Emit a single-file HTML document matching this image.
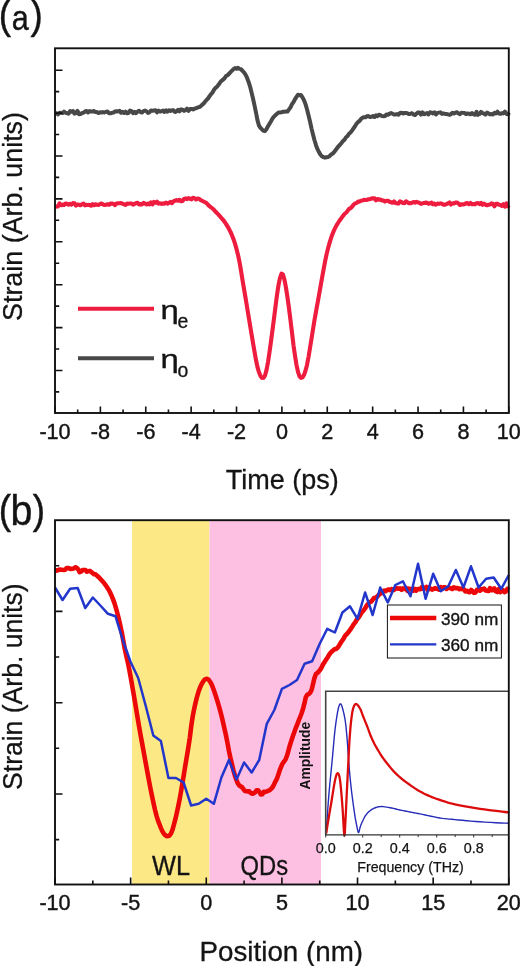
<!DOCTYPE html>
<html lang="en">
<head>
<meta charset="utf-8">
<title>Strain profiles</title>
<style>
html,body{margin:0;padding:0;background:#ffffff;}
body{width:520px;height:966px;overflow:hidden;font-family:"Liberation Sans", "DejaVu Sans", sans-serif;}
svg{display:block;}
</style>
</head>
<body>
<svg width="520" height="966" viewBox="0 0 520 966" font-family='"Liberation Sans", "DejaVu Sans", sans-serif' fill="#141414">
<rect x="0" y="0" width="520" height="966" fill="#ffffff"/>
<g id="panel-a">
<path d="M55.00 112.83 L56.50 113.17 L58.00 114.44 L59.50 112.75 L61.00 112.85 L62.50 113.10 L64.00 111.61 L65.50 112.75 L67.00 113.13 L68.50 113.69 L70.00 111.14 L71.50 111.86 L73.00 111.07 L74.50 113.64 L76.00 113.19 L77.50 110.83 L79.00 114.19 L80.50 114.11 L82.00 112.97 L83.50 112.81 L85.00 111.45 L86.50 111.04 L88.00 112.41 L89.50 111.12 L91.00 111.45 L92.50 111.56 L94.00 110.97 L95.50 112.11 L97.00 112.02 L98.50 113.08 L100.00 112.18 L101.50 112.49 L103.00 112.08 L104.50 112.50 L106.00 111.93 L107.50 111.42 L109.00 113.35 L110.50 113.34 L112.00 112.91 L113.50 112.55 L115.00 111.49 L116.50 111.26 L118.00 111.43 L119.50 110.84 L121.00 112.73 L122.50 111.75 L124.00 112.95 L125.50 111.71 L127.00 113.25 L128.50 112.95 L130.00 110.65 L131.50 111.20 L133.00 113.07 L134.50 111.86 L136.00 113.21 L137.50 111.60 L139.00 110.69 L140.50 112.16 L142.00 112.53 L143.50 111.12 L145.00 110.59 L146.50 111.22 L148.00 112.89 L149.50 112.31 L151.00 110.55 L152.50 110.87 L154.00 110.46 L155.50 110.32 L157.00 112.29 L158.50 110.60 L160.00 111.61 L161.50 111.28 L163.00 110.56 L164.50 111.99 L166.00 110.34 L167.50 111.68 L169.00 110.20 L170.50 110.96 L172.00 110.31 L173.50 110.34 L175.00 112.06 L176.50 111.42 L178.00 109.89 L179.50 111.29 L181.00 109.34 L182.50 109.71 L184.00 110.84 L185.50 110.16 L187.00 108.59 L188.50 110.87 L190.00 109.03 L191.50 108.95 L193.00 109.49 L194.50 108.65 L196.00 108.31 L197.50 107.61 L199.00 107.00 L200.50 106.49 L202.00 104.86 L203.50 103.68 L205.00 101.74 L206.50 99.99 L208.00 98.57 L209.50 96.19 L211.00 94.22 L212.50 92.40 L214.00 89.82 L215.50 87.88 L217.00 86.70 L218.50 84.83 L220.00 82.56 L221.50 80.81 L223.00 79.69 L224.50 78.29 L226.00 76.02 L227.50 75.28 L229.00 73.79 L230.50 72.17 L232.00 70.67 L233.50 69.11 L235.00 68.03 L236.50 68.74 L238.00 67.75 L239.50 68.85 L241.00 69.11 L242.50 70.88 L244.00 72.35 L245.50 74.54 L247.00 77.57 L248.50 81.73 L250.00 86.33 L251.50 92.14 L253.00 98.43 L254.50 105.33 L256.00 112.59 L257.50 120.43 L259.00 125.60 L260.50 127.90 L262.00 129.46 L263.50 130.82 L265.00 131.13 L266.50 129.09 L268.00 126.27 L269.50 123.71 L271.00 121.20 L272.50 118.51 L274.00 116.60 L275.50 115.13 L277.00 113.72 L278.50 112.53 L280.00 112.44 L281.50 112.35 L283.00 111.69 L284.50 111.66 L286.00 111.48 L287.50 111.56 L289.00 109.44 L290.50 107.26 L292.00 104.15 L293.50 102.04 L295.00 99.21 L296.50 96.89 L298.00 94.75 L299.50 95.17 L301.00 95.08 L302.50 97.40 L304.00 100.24 L305.50 104.11 L307.00 109.22 L308.50 115.16 L310.00 121.54 L311.50 128.37 L313.00 134.44 L314.50 140.25 L316.00 145.18 L317.50 149.18 L319.00 152.13 L320.50 154.71 L322.00 156.42 L323.50 157.14 L325.00 157.67 L326.50 157.25 L328.00 157.01 L329.50 156.21 L331.00 154.55 L332.50 153.71 L334.00 152.26 L335.50 150.28 L337.00 148.30 L338.50 146.24 L340.00 144.82 L341.50 142.94 L343.00 141.07 L344.50 139.69 L346.00 137.26 L347.50 136.16 L349.00 133.78 L350.50 132.56 L352.00 130.62 L353.50 128.37 L355.00 126.26 L356.50 123.75 L358.00 122.08 L359.50 120.94 L361.00 118.98 L362.50 117.67 L364.00 117.24 L365.50 117.26 L367.00 116.31 L368.50 116.10 L370.00 117.00 L371.50 116.73 L373.00 115.99 L374.50 117.04 L376.00 115.38 L377.50 116.15 L379.00 114.77 L380.50 115.26 L382.00 116.13 L383.50 116.27 L385.00 116.02 L386.50 114.49 L388.00 114.77 L389.50 113.79 L391.00 113.05 L392.50 113.81 L394.00 114.58 L395.50 114.52 L397.00 114.11 L398.50 114.74 L400.00 112.93 L401.50 112.67 L403.00 113.46 L404.50 113.02 L406.00 112.89 L407.50 113.45 L409.00 114.03 L410.50 113.68 L412.00 113.20 L413.50 114.61 L415.00 114.99 L416.50 113.55 L418.00 112.52 L419.50 112.39 L421.00 114.65 L422.50 112.40 L424.00 114.19 L425.50 113.81 L427.00 113.10 L428.50 114.39 L430.00 112.30 L431.50 112.61 L433.00 113.47 L434.50 112.31 L436.00 114.49 L437.50 112.89 L439.00 112.63 L440.50 112.38 L442.00 113.96 L443.50 113.47 L445.00 113.96 L446.50 114.03 L448.00 114.44 L449.50 114.84 L451.00 114.09 L452.50 112.77 L454.00 113.51 L455.50 112.70 L457.00 112.23 L458.50 113.46 L460.00 114.10 L461.50 112.64 L463.00 112.88 L464.50 113.06 L466.00 113.99 L467.50 113.49 L469.00 113.72 L470.50 114.31 L472.00 112.99 L473.50 114.40 L475.00 114.78 L476.50 111.81 L478.00 114.82 L479.50 114.04 L481.00 111.87 L482.50 113.01 L484.00 113.59 L485.50 114.58 L487.00 112.63 L488.50 113.28 L490.00 114.37 L491.50 114.03 L493.00 114.52 L494.50 112.74 L496.00 113.37 L497.50 111.72 L499.00 113.53 L500.50 113.83 L502.00 113.14 L503.50 113.37 L505.00 111.50 L506.50 113.92 L508.00 114.16 L509.00 112.40" fill="none" stroke="#484848" stroke-width="4.0" stroke-linejoin="round" stroke-linecap="butt"/>
<path d="M55.00 206.53 L56.50 206.59 L58.00 206.37 L59.50 203.44 L61.00 205.25 L62.50 204.62 L64.00 204.98 L65.50 203.52 L67.00 203.73 L68.50 204.62 L70.00 203.80 L71.50 204.62 L73.00 203.06 L74.50 203.26 L76.00 205.49 L77.50 204.44 L79.00 204.75 L80.50 205.28 L82.00 204.33 L83.50 203.56 L85.00 205.36 L86.50 204.86 L88.00 205.01 L89.50 204.91 L91.00 205.77 L92.50 204.23 L94.00 205.21 L95.50 204.22 L97.00 204.72 L98.50 204.93 L100.00 204.05 L101.50 203.46 L103.00 204.42 L104.50 205.01 L106.00 204.68 L107.50 204.30 L109.00 204.77 L110.50 203.60 L112.00 203.57 L113.50 203.91 L115.00 205.11 L116.50 203.54 L118.00 203.31 L119.50 203.24 L121.00 203.07 L122.50 203.63 L124.00 204.34 L125.50 204.92 L127.00 203.66 L128.50 203.72 L130.00 203.47 L131.50 203.46 L133.00 204.60 L134.50 203.97 L136.00 203.19 L137.50 202.76 L139.00 204.39 L140.50 204.13 L142.00 204.37 L143.50 202.83 L145.00 203.54 L146.50 204.40 L148.00 203.52 L149.50 204.34 L151.00 202.33 L152.50 204.28 L154.00 201.92 L155.50 202.76 L157.00 201.72 L158.50 203.62 L160.00 203.26 L161.50 203.91 L163.00 203.41 L164.50 203.70 L166.00 202.59 L167.50 203.61 L169.00 202.90 L170.50 201.76 L172.00 203.15 L173.50 201.44 L175.00 200.70 L176.50 200.07 L178.00 200.69 L179.50 199.74 L181.00 201.30 L182.50 201.07 L184.00 198.99 L185.50 198.44 L187.00 199.22 L188.50 198.10 L190.00 198.81 L191.50 199.31 L193.00 197.81 L194.50 198.23 L196.00 199.51 L197.50 198.59 L199.00 198.72 L200.50 200.12 L202.00 200.66 L203.50 201.51 L205.00 202.23 L206.50 203.09 L208.00 204.69 L209.50 206.19 L211.00 207.36 L212.50 208.35 L214.00 209.85 L215.50 211.51 L217.00 213.14 L218.50 214.66 L220.00 216.31 L221.50 218.12 L223.00 219.73 L224.50 221.79 L226.00 223.86 L227.50 226.31 L229.00 229.06 L230.50 231.94 L232.00 235.40 L233.50 239.12 L235.00 243.68 L236.50 248.91 L238.00 254.93 L239.50 261.98 L241.00 270.72 L242.50 280.00 L244.00 288.84 L245.50 297.69 L247.00 306.72 L248.50 315.91 L250.00 324.98 L251.50 334.02 L253.00 342.85 L254.50 351.56 L256.00 360.03 L257.50 367.10 L259.00 372.31 L260.50 375.98 L262.00 377.92 L263.50 377.77 L265.00 375.53 L266.50 370.10 L268.00 362.07 L269.50 352.10 L271.00 341.36 L272.50 330.05 L274.00 318.42 L275.50 306.50 L277.00 295.02 L278.50 285.14 L280.00 277.94 L281.50 273.63 L283.00 274.52 L284.50 279.98 L286.00 287.90 L287.50 297.49 L289.00 308.38 L290.50 320.14 L292.00 332.63 L293.50 345.23 L295.00 355.75 L296.50 364.85 L298.00 371.89 L299.50 376.31 L301.00 377.97 L302.50 377.35 L304.00 374.93 L305.50 370.82 L307.00 364.98 L308.50 357.05 L310.00 348.02 L311.50 338.77 L313.00 329.20 L314.50 319.97 L316.00 311.52 L317.50 303.31 L319.00 295.13 L320.50 286.60 L322.00 278.07 L323.50 269.84 L325.00 261.88 L326.50 254.64 L328.00 248.47 L329.50 243.03 L331.00 238.11 L332.50 233.95 L334.00 230.35 L335.50 227.41 L337.00 224.56 L338.50 222.24 L340.00 219.92 L341.50 217.91 L343.00 215.88 L344.50 214.00 L346.00 212.78 L347.50 210.92 L349.00 208.90 L350.50 208.25 L352.00 206.83 L353.50 204.79 L355.00 203.45 L356.50 203.12 L358.00 201.67 L359.50 201.64 L361.00 200.65 L362.50 200.41 L364.00 199.78 L365.50 200.00 L367.00 199.87 L368.50 199.18 L370.00 199.12 L371.50 198.52 L373.00 198.18 L374.50 198.26 L376.00 200.36 L377.50 198.96 L379.00 199.70 L380.50 199.61 L382.00 200.54 L383.50 200.53 L385.00 201.56 L386.50 200.74 L388.00 200.78 L389.50 201.72 L391.00 202.16 L392.50 202.79 L394.00 201.43 L395.50 203.00 L397.00 203.35 L398.50 203.44 L400.00 201.38 L401.50 202.05 L403.00 203.08 L404.50 203.26 L406.00 201.32 L407.50 202.25 L409.00 203.12 L410.50 203.27 L412.00 202.77 L413.50 202.03 L415.00 202.58 L416.50 201.78 L418.00 202.49 L419.50 202.84 L421.00 203.89 L422.50 203.37 L424.00 202.99 L425.50 202.62 L427.00 202.85 L428.50 203.78 L430.00 203.26 L431.50 202.61 L433.00 204.26 L434.50 203.67 L436.00 204.67 L437.50 203.60 L439.00 203.83 L440.50 203.35 L442.00 203.81 L443.50 204.59 L445.00 204.75 L446.50 203.96 L448.00 203.40 L449.50 202.50 L451.00 204.47 L452.50 203.37 L454.00 203.37 L455.50 202.59 L457.00 202.56 L458.50 203.48 L460.00 204.97 L461.50 204.42 L463.00 204.37 L464.50 204.31 L466.00 203.35 L467.50 203.12 L469.00 204.24 L470.50 202.92 L472.00 204.26 L473.50 204.10 L475.00 204.20 L476.50 203.17 L478.00 203.06 L479.50 204.10 L481.00 202.92 L482.50 204.73 L484.00 203.56 L485.50 204.72 L487.00 205.22 L488.50 204.74 L490.00 204.51 L491.50 203.36 L493.00 203.95 L494.50 206.28 L496.00 203.79 L497.50 203.91 L499.00 204.72 L500.50 204.98 L502.00 205.93 L503.50 204.21 L505.00 206.68 L506.50 203.37 L508.00 206.20 L509.00 205.20" fill="none" stroke="#ee1c3e" stroke-width="4.1" stroke-linejoin="round" stroke-linecap="butt"/>
<rect x="55.0" y="48.3" width="453.8" height="364.7" fill="none" stroke="#111111" stroke-width="1.9"/>
<path d="M55.00 413.0 V406.50 M77.69 413.0 V409.40 M100.38 413.0 V406.50 M123.07 413.0 V409.40 M145.76 413.0 V406.50 M168.45 413.0 V409.40 M191.14 413.0 V406.50 M213.83 413.0 V409.40 M236.52 413.0 V406.50 M259.21 413.0 V409.40 M281.90 413.0 V406.50 M304.59 413.0 V409.40 M327.28 413.0 V406.50 M349.97 413.0 V409.40 M372.66 413.0 V406.50 M395.35 413.0 V409.40 M418.04 413.0 V406.50 M440.73 413.0 V409.40 M463.42 413.0 V406.50 M486.11 413.0 V409.40 M508.80 413.0 V406.50 M55.0 70.20 H62.50 M55.0 113.10 H62.50 M55.0 156.00 H62.50 M55.0 198.90 H62.50 M55.0 241.80 H62.50 M55.0 284.70 H62.50 M55.0 327.60 H62.50 M55.0 370.50 H62.50 M55.0 91.60 H59.20 M55.0 134.50 H59.20 M55.0 177.40 H59.20 M55.0 220.30 H59.20 M55.0 263.20 H59.20 M55.0 306.10 H59.20 M55.0 349.00 H59.20 M55.0 391.90 H59.20" fill="none" stroke="#111111" stroke-width="1.6"/>
<g font-size="21.6" text-anchor="middle" stroke="#141414" stroke-width="0.42">
<text x="55.0" y="438.6">-10</text>
<text x="100.4" y="438.6">-8</text>
<text x="145.8" y="438.6">-6</text>
<text x="191.1" y="438.6">-4</text>
<text x="236.5" y="438.6">-2</text>
<text x="281.9" y="438.6">0</text>
<text x="327.3" y="438.6">2</text>
<text x="372.7" y="438.6">4</text>
<text x="418.0" y="438.6">6</text>
<text x="463.4" y="438.6">8</text>
<text x="508.8" y="438.6">10</text>
</g>
<text x="282.3" y="489.2" font-size="27" text-anchor="middle" textLength="113" lengthAdjust="spacingAndGlyphs" stroke="#141414" stroke-width="0.3">Time (ps)</text>
<text transform="translate(22 216.5) rotate(-90)" font-size="26.8" text-anchor="middle" textLength="209" lengthAdjust="spacingAndGlyphs" stroke="#141414" stroke-width="0.3">Strain (Arb. units)</text>
<text stroke="#141414" stroke-width="0.4"><tspan x="-1.2" y="28.6" font-size="41" textLength="12.29" lengthAdjust="spacingAndGlyphs">(</tspan><tspan x="11.8" y="29.9" font-size="35.6" textLength="17.02" lengthAdjust="spacingAndGlyphs">a</tspan><tspan x="30.6" y="28.6" font-size="41" textLength="12.29" lengthAdjust="spacingAndGlyphs">)</tspan></text>
<path d="M78 308.8 H154" stroke="#ee1c3e" stroke-width="4" fill="none"/>
<path d="M78 358.3 H154" stroke="#484848" stroke-width="4" fill="none"/>
<text stroke="#141414" stroke-width="0.3"><tspan x="160.4" y="318.6" font-size="25.8" textLength="18.36" lengthAdjust="spacingAndGlyphs">η</tspan><tspan x="177.6" y="327.7" font-size="19.4">e</tspan></text>
<text stroke="#141414" stroke-width="0.3"><tspan x="160.4" y="368.3" font-size="25.8" textLength="18.36" lengthAdjust="spacingAndGlyphs">η</tspan><tspan x="177.6" y="377.4" font-size="19.4">o</tspan></text>
</g>
<g id="panel-b">
<rect x="132" y="520.2" width="77.5" height="364.29999999999995" fill="#fce986"/>
<rect x="209.5" y="520.2" width="111.5" height="364.29999999999995" fill="#fdc0e2"/>
<text x="171" y="874.6" font-size="27.5" text-anchor="middle" textLength="38" lengthAdjust="spacingAndGlyphs" stroke="#141414" stroke-width="0.35">WL</text>
<text x="264.3" y="874.6" font-size="27.5" text-anchor="middle" textLength="47.6" lengthAdjust="spacingAndGlyphs" stroke="#141414" stroke-width="0.3">QDs</text>
<path d="M55.00 571.13 L56.45 570.40 L57.90 570.37 L59.35 569.44 L60.80 569.65 L62.25 569.78 L63.70 569.98 L65.15 569.66 L66.60 568.04 L68.05 567.98 L69.50 568.47 L70.95 568.98 L72.40 568.81 L73.85 568.31 L75.30 567.24 L76.75 567.83 L78.20 569.33 L79.65 572.18 L81.10 571.51 L82.55 570.10 L84.00 570.01 L85.45 569.94 L86.90 571.69 L88.35 571.15 L89.80 570.92 L91.25 571.86 L92.70 573.23 L94.15 574.29 L95.60 574.37 L97.05 575.67 L98.50 577.04 L99.95 578.41 L101.40 580.04 L102.85 581.58 L104.30 583.37 L105.75 585.28 L107.20 587.48 L108.65 589.73 L110.10 592.45 L111.55 595.64 L113.00 599.16 L114.45 603.12 L115.90 607.91 L117.35 613.25 L118.80 618.91 L120.25 625.15 L121.70 632.03 L123.15 639.98 L124.60 647.96 L126.05 654.74 L127.50 660.95 L128.95 667.75 L130.40 675.56 L131.85 683.77 L133.30 692.07 L134.75 700.62 L136.20 709.38 L137.65 718.23 L139.10 726.72 L140.55 734.82 L142.00 742.75 L143.45 750.57 L144.90 758.58 L146.35 766.52 L147.80 774.30 L149.25 782.05 L150.70 789.57 L152.15 796.67 L153.60 803.55 L155.05 810.04 L156.50 815.62 L157.95 820.33 L159.40 824.22 L160.85 827.83 L162.30 831.11 L163.75 833.50 L165.20 835.15 L166.65 836.22 L168.10 836.04 L169.55 835.50 L171.00 833.49 L172.45 829.86 L173.90 824.73 L175.35 819.18 L176.80 812.97 L178.25 806.26 L179.70 798.87 L181.15 790.88 L182.60 782.25 L184.05 773.34 L185.50 764.49 L186.95 755.84 L188.40 747.03 L189.85 737.52 L191.30 725.69 L192.75 716.15 L194.20 708.77 L195.65 702.28 L197.10 696.54 L198.55 691.58 L200.00 687.63 L201.45 684.43 L202.90 681.78 L204.35 679.90 L205.80 678.95 L207.25 678.83 L208.70 679.74 L210.15 681.76 L211.60 684.42 L213.05 687.92 L214.50 692.07 L215.95 696.44 L217.40 701.02 L218.85 705.93 L220.30 711.18 L221.75 716.77 L223.20 722.97 L224.65 729.39 L226.10 736.10 L227.55 743.38 L229.00 751.14 L230.45 757.97 L231.90 764.13 L233.35 770.03 L234.80 775.24 L236.25 779.63 L237.70 782.98 L239.15 785.36 L240.60 786.44 L242.05 787.15 L243.50 789.28 L244.95 790.97 L246.40 791.19 L247.85 791.35 L249.30 791.31 L250.75 793.02 L252.20 793.80 L253.65 793.27 L255.10 792.33 L256.55 790.31 L258.00 790.27 L259.45 792.15 L260.90 794.51 L262.35 794.21 L263.80 791.76 L265.25 791.94 L266.70 791.46 L268.15 790.86 L269.60 790.23 L271.05 788.90 L272.50 787.35 L273.95 784.61 L275.40 781.62 L276.85 778.91 L278.30 774.64 L279.75 770.17 L281.20 766.57 L282.65 763.37 L284.10 761.51 L285.55 759.46 L287.00 755.77 L288.45 750.59 L289.90 745.22 L291.35 740.71 L292.80 736.19 L294.25 732.25 L295.70 728.17 L297.15 724.71 L298.60 720.94 L300.05 717.21 L301.50 713.47 L302.95 709.08 L304.40 703.44 L305.85 697.10 L307.30 694.62 L308.75 694.10 L310.20 692.69 L311.65 689.80 L313.10 683.69 L314.55 677.57 L316.00 673.91 L317.45 672.84 L318.90 671.36 L320.35 669.54 L321.80 667.09 L323.25 664.01 L324.70 661.87 L326.15 659.61 L327.60 657.44 L329.05 654.89 L330.50 652.93 L331.95 651.42 L333.40 650.12 L334.85 649.06 L336.30 648.88 L337.75 647.56 L339.20 645.42 L340.65 642.89 L342.10 640.79 L343.55 638.70 L345.00 635.92 L346.45 634.47 L347.90 632.81 L349.35 630.80 L350.80 628.86 L352.25 626.63 L353.70 624.26 L355.15 622.60 L356.60 619.96 L358.05 618.15 L359.50 616.16 L360.95 613.56 L362.40 611.53 L363.85 610.06 L365.30 607.94 L366.75 605.57 L368.20 603.81 L369.65 602.22 L371.10 601.55 L372.55 600.03 L374.00 597.94 L375.45 597.66 L376.90 596.84 L378.35 595.34 L379.80 593.90 L381.25 593.35 L382.70 591.75 L384.15 590.57 L385.60 591.21 L387.05 590.03 L388.50 589.46 L389.95 590.12 L391.40 589.07 L392.85 589.94 L394.30 589.85 L395.75 588.11 L397.20 588.40 L398.65 588.61 L400.10 588.41 L401.55 589.71 L403.00 588.44 L404.45 589.02 L405.90 587.90 L407.35 590.83 L408.80 588.69 L410.25 589.05 L411.70 589.50 L413.15 590.68 L414.60 588.81 L416.05 590.67 L417.50 589.06 L418.95 589.14 L420.40 589.08 L421.85 587.14 L423.30 588.72 L424.75 587.72 L426.20 587.02 L427.65 590.02 L429.10 587.62 L430.55 588.75 L432.00 589.68 L433.45 589.02 L434.90 588.11 L436.35 588.80 L437.80 588.90 L439.25 589.71 L440.70 587.05 L442.15 588.67 L443.60 587.33 L445.05 587.26 L446.50 588.92 L447.95 587.72 L449.40 587.76 L450.85 588.42 L452.30 588.98 L453.75 587.28 L455.20 588.11 L456.65 587.96 L458.10 588.28 L459.55 589.25 L461.00 588.64 L462.45 589.21 L463.90 589.28 L465.35 591.32 L466.80 590.74 L468.25 591.73 L469.70 592.26 L471.15 589.94 L472.60 591.27 L474.05 592.82 L475.50 592.47 L476.95 589.74 L478.40 589.56 L479.85 590.60 L481.30 588.99 L482.75 589.39 L484.20 588.52 L485.65 590.53 L487.10 590.75 L488.55 591.02 L490.00 588.09 L491.45 590.24 L492.90 590.11 L494.35 588.32 L495.80 591.32 L497.25 591.87 L498.70 589.24 L500.15 592.12 L501.60 590.02 L503.05 590.32 L504.50 592.15 L505.95 591.46 L507.40 588.81 L508.80 590.00" fill="none" stroke="#ec0808" stroke-width="4.6" stroke-linejoin="round" stroke-linecap="butt"/>
<path d="M55.00 587.50 L62.56 600.00 L70.13 588.80 L77.69 588.00 L85.25 608.00 L92.82 597.50 L100.38 605.50 L107.94 613.80 L115.51 616.30 L123.07 641.00 L130.63 662.00 L138.20 678.00 L145.76 706.00 L153.32 735.50 L160.89 741.00 L168.45 778.00 L176.01 778.00 L183.58 782.50 L191.14 805.50 L198.70 803.80 L206.27 798.80 L213.83 803.80 L221.39 777.50 L228.96 760.00 L236.52 779.50 L244.08 762.50 L251.65 772.50 L259.21 760.00 L266.77 723.80 L274.34 710.00 L281.90 688.80 L289.46 685.00 L297.03 680.00 L304.59 663.80 L312.15 661.30 L319.72 643.80 L327.28 628.80 L334.84 632.50 L342.41 612.50 L349.97 606.30 L357.53 618.80 L365.10 592.50 L372.66 615.00 L380.22 587.50 L387.79 602.50 L395.35 585.00 L402.91 581.30 L410.48 596.30 L418.04 563.80 L425.60 598.80 L433.17 573.80 L440.73 591.30 L448.29 586.30 L455.86 570.00 L463.42 587.50 L470.98 566.30 L478.55 587.50 L486.11 578.80 L493.67 577.50 L501.24 588.80 L508.80 575.00" fill="none" stroke="#2236cc" stroke-width="2.5" stroke-linejoin="round" stroke-linecap="butt"/>
<rect x="387.4" y="605" width="114" height="53" fill="#ffffff" stroke="#111111" stroke-width="1"/>
<path d="M390 618.1 H436.3" stroke="#ec0808" stroke-width="4.5" fill="none"/>
<path d="M390 644.3 H436.3" stroke="#2236cc" stroke-width="2.2" fill="none"/>
<text x="440.9" y="625.2" font-size="17.3" textLength="57.4" lengthAdjust="spacingAndGlyphs" stroke="#141414" stroke-width="0.35">390 nm</text>
<text x="440.9" y="651" font-size="17.3" textLength="57.4" lengthAdjust="spacingAndGlyphs" stroke="#141414" stroke-width="0.35">360 nm</text>
<rect x="325.7" y="691.2" width="183.3" height="192.5" fill="#ffffff"/>
<path d="M326.20 833.40 L326.35 831.07 L326.56 827.84 L326.80 824.02 L327.07 819.91 L327.34 815.80 L327.60 812.00 L327.84 808.57 L328.07 805.27 L328.30 801.99 L328.56 798.57 L328.85 794.89 L329.20 790.80 L329.62 786.21 L330.10 781.21 L330.62 775.95 L331.16 770.56 L331.70 765.20 L332.20 760.00 L332.68 754.84 L333.14 749.57 L333.60 744.33 L334.06 739.23 L334.52 734.41 L335.00 730.00 L335.49 725.93 L336.00 722.08 L336.52 718.51 L337.03 715.27 L337.53 712.42 L338.00 710.00 L338.45 708.02 L338.87 706.45 L339.28 705.26 L339.69 704.44 L340.09 703.96 L340.50 703.80 L340.92 704.05 L341.34 704.73 L341.76 705.76 L342.17 707.04 L342.59 708.49 L343.00 710.00 L343.41 711.59 L343.83 713.35 L344.24 715.26 L344.65 717.34 L345.04 719.59 L345.40 722.00 L345.73 724.54 L346.04 727.20 L346.32 730.02 L346.61 733.06 L346.90 736.37 L347.20 740.00 L347.52 744.11 L347.84 748.69 L348.17 753.53 L348.50 758.45 L348.85 763.24 L349.20 767.70 L349.56 771.82 L349.91 775.74 L350.28 779.54 L350.66 783.28 L351.07 787.01 L351.50 790.80 L351.98 794.76 L352.51 798.87 L353.06 802.98 L353.60 806.94 L354.13 810.59 L354.60 813.80 L355.02 816.52 L355.42 818.87 L355.79 820.92 L356.14 822.75 L356.47 824.42 L356.80 826.00 L357.11 827.57 L357.40 829.07 L357.68 830.41 L357.95 831.51 L358.22 832.27 L358.50 832.60 L358.78 832.37 L359.05 831.62 L359.33 830.54 L359.60 829.29 L359.89 828.05 L360.20 827.00 L360.51 826.13 L360.80 825.31 L361.11 824.50 L361.45 823.67 L361.84 822.78 L362.30 821.80 L362.82 820.69 L363.39 819.48 L364.00 818.21 L364.67 816.94 L365.40 815.72 L366.20 814.60 L367.07 813.56 L368.01 812.56 L369.01 811.61 L370.07 810.73 L371.17 809.92 L372.30 809.20 L373.46 808.56 L374.66 807.99 L375.91 807.49 L377.20 807.09 L378.57 806.79 L380.00 806.60 L381.53 806.56 L383.16 806.65 L384.86 806.84 L386.58 807.11 L388.31 807.40 L390.00 807.70 L391.67 808.02 L393.33 808.39 L395.00 808.79 L396.67 809.21 L398.33 809.62 L400.00 810.00 L401.64 810.35 L403.24 810.67 L404.84 810.99 L406.48 811.31 L408.19 811.65 L410.00 812.00 L411.88 812.36 L413.80 812.73 L415.78 813.10 L417.87 813.50 L420.10 813.93 L422.50 814.40 L425.16 814.95 L428.06 815.59 L431.09 816.25 L434.17 816.90 L437.17 817.50 L440.00 818.00 L442.53 818.38 L444.81 818.66 L447.03 818.89 L449.35 819.10 L451.95 819.32 L455.00 819.60 L458.55 819.94 L462.46 820.31 L466.66 820.71 L471.04 821.10 L475.52 821.47 L480.00 821.80 L484.88 822.11 L490.30 822.41 L495.81 822.69 L500.98 822.94 L505.36 823.14 L508.50 823.30" fill="none" stroke="#262cb8" stroke-width="1.4" stroke-linejoin="round"/>
<path d="M326.20 833.40 L326.38 832.25 L326.61 830.74 L326.89 828.92 L327.22 826.82 L327.59 824.50 L328.00 822.00 L328.46 819.25 L328.97 816.19 L329.53 812.91 L330.11 809.49 L330.71 805.99 L331.30 802.50 L331.91 798.81 L332.54 794.81 L333.19 790.74 L333.83 786.84 L334.44 783.34 L335.00 780.50 L335.50 778.27 L335.96 776.46 L336.38 775.05 L336.79 774.04 L337.19 773.43 L337.60 773.20 L338.01 773.30 L338.41 773.71 L338.81 774.52 L339.21 775.79 L339.60 777.59 L340.00 780.00 L340.41 783.19 L340.82 787.13 L341.23 791.61 L341.64 796.40 L342.03 801.27 L342.40 806.00 L342.75 811.15 L343.10 817.02 L343.43 822.97 L343.74 828.37 L344.04 832.59 L344.30 835.00 L344.53 835.41 L344.71 834.29 L344.88 831.98 L345.03 828.85 L345.20 825.24 L345.40 821.50 L345.63 817.37 L345.87 812.51 L346.12 807.17 L346.39 801.60 L346.65 796.06 L346.90 790.80 L347.16 785.66 L347.42 780.40 L347.68 775.17 L347.94 770.10 L348.18 765.33 L348.40 761.00 L348.59 757.21 L348.75 753.87 L348.90 750.83 L349.05 747.93 L349.21 745.04 L349.40 742.00 L349.61 738.78 L349.84 735.48 L350.08 732.19 L350.34 728.96 L350.61 725.88 L350.90 723.00 L351.20 720.27 L351.52 717.63 L351.86 715.12 L352.21 712.81 L352.59 710.75 L353.00 709.00 L353.44 707.54 L353.90 706.31 L354.38 705.34 L354.89 704.63 L355.43 704.18 L356.00 704.00 L356.62 704.17 L357.30 704.69 L358.00 705.47 L358.70 706.43 L359.38 707.47 L360.00 708.50 L360.55 709.55 L361.04 710.69 L361.50 711.91 L361.96 713.20 L362.45 714.57 L363.00 716.00 L363.61 717.52 L364.27 719.15 L364.95 720.84 L365.64 722.57 L366.33 724.30 L367.00 726.00 L367.65 727.69 L368.29 729.41 L368.92 731.12 L369.55 732.81 L370.17 734.45 L370.80 736.00 L371.42 737.46 L372.03 738.85 L372.64 740.19 L373.25 741.48 L373.87 742.75 L374.50 744.00 L375.16 745.24 L375.83 746.46 L376.51 747.65 L377.19 748.81 L377.86 749.93 L378.50 751.00 L379.11 752.02 L379.69 752.98 L380.25 753.90 L380.81 754.80 L381.39 755.69 L382.00 756.60 L382.61 757.48 L383.20 758.32 L383.81 759.15 L384.46 760.01 L385.18 760.95 L386.00 762.00 L386.94 763.21 L388.00 764.55 L389.12 765.96 L390.28 767.39 L391.42 768.75 L392.50 770.00 L393.52 771.12 L394.52 772.17 L395.50 773.17 L396.48 774.13 L397.48 775.06 L398.50 776.00 L399.48 776.88 L400.41 777.69 L401.34 778.48 L402.37 779.31 L403.56 780.23 L405.00 781.30 L406.74 782.58 L408.72 784.04 L410.88 785.59 L413.11 787.15 L415.35 788.65 L417.50 790.00 L419.58 791.21 L421.67 792.34 L423.75 793.41 L425.83 794.42 L427.92 795.38 L430.00 796.30 L432.08 797.17 L434.17 797.97 L436.25 798.72 L438.33 799.44 L440.42 800.13 L442.50 800.80 L444.44 801.43 L446.20 802.00 L447.97 802.55 L449.91 803.10 L452.19 803.67 L455.00 804.30 L458.44 805.01 L462.41 805.77 L466.72 806.57 L471.20 807.36 L475.69 808.11 L480.00 808.80 L484.42 809.44 L489.13 810.06 L493.84 810.65 L498.26 811.18 L502.08 811.64 L505.00 812.00 L506.87 812.25 L507.89 812.39 L508.31 812.45 L508.39 812.47 L508.37 812.48 L508.50 812.50" fill="none" stroke="#dc0c0c" stroke-width="2.3" stroke-linejoin="round"/>
<path d="M325.7 835.4 V691.2 H509.0" fill="none" stroke="#444" stroke-width="1.6"/>
<path d="M325.7 834.9 H509.0" fill="none" stroke="#333" stroke-width="1.1"/>
<path d="M325.70 834.9 V837.50 M344.20 834.9 V837.10 M362.70 834.9 V837.50 M381.20 834.9 V837.10 M399.70 834.9 V837.50 M418.20 834.9 V837.10 M436.70 834.9 V837.50 M455.20 834.9 V837.10 M473.70 834.9 V837.50 M492.20 834.9 V837.10" fill="none" stroke="#333" stroke-width="1.0"/>
<g font-size="15" text-anchor="middle" stroke="#141414" stroke-width="0.25">
<text x="325.7" y="852.7" textLength="20" lengthAdjust="spacingAndGlyphs">0.0</text>
<text x="362.7" y="852.7" textLength="20" lengthAdjust="spacingAndGlyphs">0.2</text>
<text x="399.7" y="852.7" textLength="20" lengthAdjust="spacingAndGlyphs">0.4</text>
<text x="436.7" y="852.7" textLength="20" lengthAdjust="spacingAndGlyphs">0.6</text>
<text x="473.7" y="852.7" textLength="20" lengthAdjust="spacingAndGlyphs">0.8</text>
</g>
<text x="410.5" y="871.6" font-size="15" text-anchor="middle" textLength="106.5" lengthAdjust="spacingAndGlyphs" stroke="#141414" stroke-width="0.25">Frequency (THz)</text>
<text transform="translate(310.4 755.7) rotate(-90)" font-size="15" font-weight="bold" text-anchor="middle" textLength="67.6" lengthAdjust="spacingAndGlyphs">Amplitude</text>
<rect x="55.0" y="520.2" width="453.8" height="364.29999999999995" fill="none" stroke="#111111" stroke-width="1.9"/>
<path d="M55.00 884.5 V877.50 M92.82 884.5 V880.50 M130.63 884.5 V877.50 M168.45 884.5 V880.50 M206.27 884.5 V877.50 M244.08 884.5 V880.50 M281.90 884.5 V877.50 M319.72 884.5 V880.50 M357.53 884.5 V877.50 M395.35 884.5 V880.50 M433.17 884.5 V877.50 M470.98 884.5 V880.50 M508.80 884.5 V877.50 M55.0 611.40 H62.50 M55.0 702.70 H62.50 M55.0 794.00 H62.50 M55.0 565.80 H59.20 M55.0 657.00 H59.20 M55.0 748.30 H59.20 M55.0 839.60 H59.20" fill="none" stroke="#111111" stroke-width="1.6"/>
<g font-size="21.6" text-anchor="middle" stroke="#141414" stroke-width="0.42">
<text x="55.0" y="909.6">-10</text>
<text x="130.6" y="909.6">-5</text>
<text x="206.3" y="909.6">0</text>
<text x="281.9" y="909.6">5</text>
<text x="357.5" y="909.6">10</text>
<text x="433.2" y="909.6">15</text>
<text x="508.8" y="909.6">20</text>
</g>
<text x="281.3" y="961" font-size="26.8" text-anchor="middle" textLength="163.5" lengthAdjust="spacingAndGlyphs" stroke="#141414" stroke-width="0.3">Position (nm)</text>
<text transform="translate(22 686.7) rotate(-90)" font-size="26.8" text-anchor="middle" textLength="206.5" lengthAdjust="spacingAndGlyphs" stroke="#141414" stroke-width="0.3">Strain (Arb. units)</text>
<text stroke="#141414" stroke-width="0.4"><tspan x="-1.2" y="523.8" font-size="41" textLength="12.29" lengthAdjust="spacingAndGlyphs">(</tspan><tspan x="10.6" y="525" font-size="42.4" textLength="21.92" lengthAdjust="spacingAndGlyphs">b</tspan><tspan x="32.8" y="523.8" font-size="41" textLength="12.29" lengthAdjust="spacingAndGlyphs">)</tspan></text>
</g>
</svg>
</body>
</html>
